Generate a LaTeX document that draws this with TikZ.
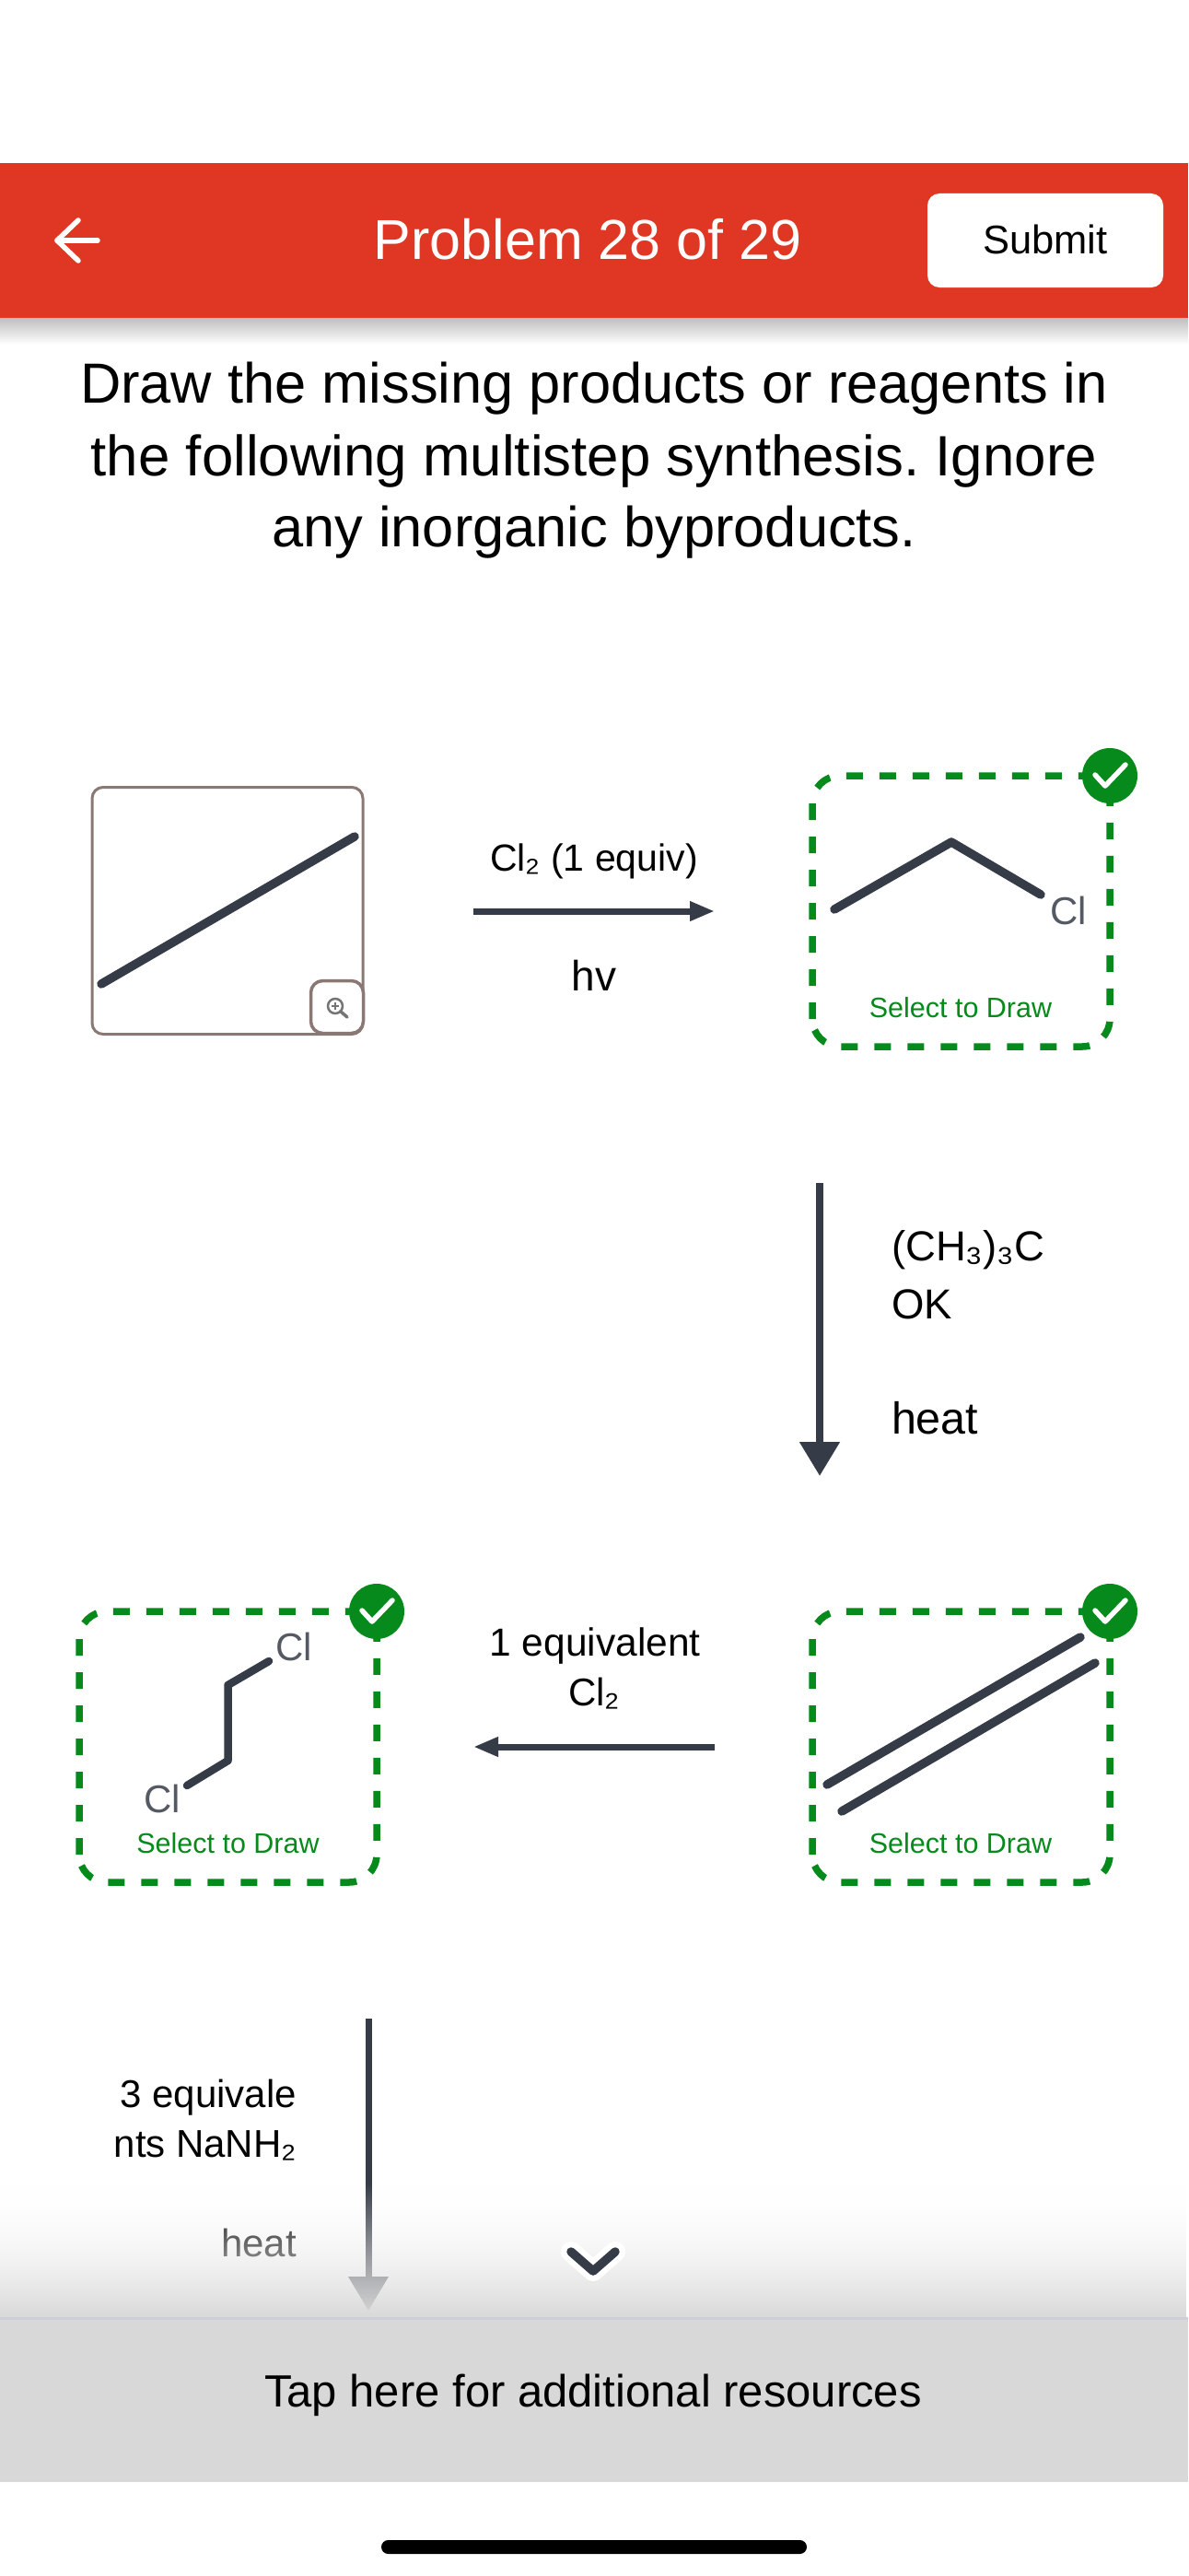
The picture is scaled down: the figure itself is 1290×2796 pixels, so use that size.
\documentclass[tikz,border=0pt]{standalone}
\usepackage{fontspec}
\setmainfont{Liberation Sans}
\usetikzlibrary{arrows.meta,fadings,shadings}
\definecolor{hdr}{HTML}{DF3723}
\definecolor{ink}{HTML}{363C47}
\definecolor{okgreen}{HTML}{058A1B}
\definecolor{band}{HTML}{D8D8D8}
\definecolor{edge}{HTML}{8A7874}
\definecolor{rulegrey}{HTML}{CDD0D6}
\definecolor{lens}{HTML}{757575}
\newcommand{\fs}[1]{\fontsize{#1}{#1}\selectfont}
\tikzfading[name=fadedown, top color=transparent!100, bottom color=transparent!0]
\tikzset{
  txt/.style={inner sep=0pt, outer sep=0pt, anchor=base, text=black},
  txtl/.style={txt, anchor=base west},
  txtr/.style={txt, anchor=base east},
  selbox/.style={minimum width=323pt, minimum height=294pt, inner sep=0pt, outer sep=0pt},
  selline/.style={draw=okgreen, line width=7.5pt, rounded corners=30pt,
    dash pattern=on 18pt off 18pt, dash phase=0pt},
  selcap/.style={txt, text=okgreen, font=\fs{30.5}},
  chk/.style={circle, fill=okgreen, minimum size=60pt, inner sep=0pt, outer sep=0pt},
  chkmark/.style={draw=white, line width=5.5pt, line cap=round, line join=round},
  bond/.style={draw=ink, line width=9.5pt, line cap=round, line join=round},
  flowh/.style={draw=ink, fill=ink, line width=7pt, -{Triangle[length=27pt,width=20pt]}},
  flowv/.style={draw=ink, fill=ink, line width=8pt, -{Triangle[length=37pt,width=42pt]}},
  atom/.style={txt, anchor=center, text=ink!85!white, font=\fs{42}},
}
\newcommand{\dashedbox}[3]{%
  \node[selbox] (#1) at (#2,#3) {};
  \draw[selline] ([yshift=30pt]#1.south west) -- (#1.north west) -- (#1.north east) -- (#1.south east) -- (#1.south west) -- ([yshift=30pt]#1.south west);
}
\newcommand{\checkbadge}[3]{%
  \node[chk] (#1) at (#2,#3) {};
  \coordinate (#1a) at (#2-16,#3-1);
  \coordinate (#1b) at (#2-5,#3+11);
  \coordinate (#1c) at (#2+17,#3-12);
  \draw[chkmark] (#1a) -- (#1b) -- (#1c);
}
\begin{document}
\frenchspacing
\begin{tikzpicture}[x=1pt,y=-1pt]
\useasboundingbox (0,0) rectangle (1290,2796);
\fill[white] (0,0) rectangle (1290,2796);

% header
\shade[top color=black!25, bottom color=white] (0,345) rectangle (1290,374);
\node[fill=hdr, minimum width=1290pt, minimum height=168pt, inner sep=0pt, outer sep=0pt, anchor=north west] (header) at (0,177) {};
\coordinate (backT) at (106,261);
\coordinate (backH) at (62,261);
\coordinate (backU) at (85,239);
\coordinate (backD) at (85,283);
\draw[white, line width=5.5pt, line cap=round, line join=round] (backT) -- (backH);
\draw[white, line width=5.5pt, line cap=round, line join=round] (backU) -- (backH) -- (backD);
\node[txt, text=white, font=\fs{61}] (title) at (638,281) {Problem 28 of 29};
\node[fill=white, rounded corners=13pt, minimum width=256pt, minimum height=102pt, inner sep=0pt, outer sep=0pt] (submit) at (1135,261) {};
\node[txt, font=\fs{43.5}] (submitT) at (1135,276) {Submit};

% question
\node[txt, font=\fs{61.4}] (q1) at (645,437) {Draw the missing products or reagents in};
\node[txt, font=\fs{61.8}] (q2) at (645,516) {the following multistep synthesis. Ignore};
\node[txt, font=\fs{61.4}] (q3) at (645,593) {any inorganic byproducts.};

% starting material
\node[draw=edge, line width=3pt, rounded corners=12pt, minimum width=294pt, minimum height=268pt, inner sep=0pt, outer sep=0pt] (start) at (247,988.5) {};
\coordinate (s1) at (110,1068);
\coordinate (s2) at (385,908);
\draw[bond] (s1) -- (s2);
\node[draw=edge, fill=white, line width=3.5pt, rounded corners=13pt, minimum width=57pt, minimum height=57pt, inner sep=0pt, outer sep=0pt] (zoombtn) at (366,1093) {};
\node[circle, draw=lens, line width=2.5pt, minimum size=16pt, inner sep=0pt, outer sep=0pt] (lensc) at (364,1092) {};
\coordinate (lh) at (377,1104);
\draw[lens, line width=3.5pt, line cap=round] (lensc.south east) -- (lh);
\coordinate (pa) at (360,1092); \coordinate (pb) at (368,1092);
\coordinate (pc) at (364,1088); \coordinate (pd) at (364,1096);
\draw[lens, line width=2pt] (pa) -- (pb) (pc) -- (pd);

% step 1
\coordinate (a1s) at (514,989);
\coordinate (a1e) at (776,989);
\draw[flowh] (a1s) -- (a1e);
\node[txt, font=\fs{41}] (r1) at (645,945) {Cl₂ (1 equiv)};
\node[txt, font=\fs{46}] (r2) at (645,1075) {hv};

% product 1
\dashedbox{box2}{1043.5}{989}
\coordinate (m1) at (906,987);
\coordinate (m2) at (1033,914);
\coordinate (m3) at (1130,971);
\draw[bond] (m1) -- (m2) -- (m3);
\node[atom] (clA) at (1160,988) {Cl};
\node[selcap] (cap2) at (1043,1104) {Select to Draw};
\checkbadge{ck2}{1205}{842}

% step 2
\coordinate (a2s) at (890,1284);
\coordinate (a2e) at (890,1602);
\draw[flowv] (a2s) -- (a2e);
\node[txtl, font=\fs{45.5}] (r3) at (968,1368) {(CH₃)₃C};
\node[txtl, font=\fs{45.5}] (r4) at (968,1431) {OK};
\node[txtl, font=\fs{48.5}] (r5) at (968,1556) {heat};

% product 2
\dashedbox{box3}{1043.5}{1896}
\coordinate (d1) at (898,1937);
\coordinate (d2) at (1173,1777);
\coordinate (d3) at (914,1966);
\coordinate (d4) at (1189,1805);
\draw[bond] (d1) -- (d2);
\draw[bond] (d3) -- (d4);
\node[selcap] (cap3) at (1043,2011) {Select to Draw};
\checkbadge{ck3}{1205}{1749}

% step 3
\coordinate (a3s) at (776,1896);
\coordinate (a3e) at (514,1896);
\draw[flowh] (a3s) -- (a3e);
\node[txt, font=\fs{42.5}] (r6) at (646,1797) {1 equivalent};
\node[txt, font=\fs{42}] (r7) at (645,1851) {Cl₂};

% product 3
\dashedbox{box4}{247.5}{1896}
\coordinate (e1) at (292,1803);
\coordinate (e2) at (247.5,1829);
\coordinate (e3) at (247.5,1911);
\coordinate (e4) at (203,1938);
\draw[bond, line width=8.5pt] (e1) -- (e2) -- (e3) -- (e4);
\node[atom] (clB) at (319,1787) {Cl};
\node[atom] (clC) at (176,1952) {Cl};
\node[selcap] (cap4) at (247.5,2011) {Select to Draw};
\checkbadge{ck4}{409}{1749}

% step 4
\coordinate (a4s) at (400,2191);
\coordinate (a4e) at (400,2508);
\draw[flowv, line width=7pt] (a4s) -- (a4e);
\node[txtr, font=\fs{42}] (r8) at (322,2287) {3 equivale};
\node[txtr, font=\fs{42}] (r9) at (322,2341) {nts NaNH₂};
\node[txtr, font=\fs{42}] (r10) at (322,2449) {heat};

% fade and bottom band
\shade[top color=white, bottom color=band, path fading=fadedown] (0,2370) rectangle (1290,2516);
\node[fill=band, minimum width=1290pt, minimum height=178pt, inner sep=0pt, outer sep=0pt, anchor=north west] (bar) at (0,2516) {};
\coordinate (ruleL) at (0,2516);
\coordinate (ruleR) at (1290,2516);
\draw[rulegrey, line width=3pt] (ruleL) -- (ruleR);
\coordinate (c1) at (620,2444);
\coordinate (c2) at (644,2465);
\coordinate (c3) at (668,2444);
\draw[white, line width=22pt, line cap=round, line join=round] (c1) -- (c2) -- (c3);
\draw[ink, line width=9.5pt, line cap=round, line join=round] (c1) -- (c2) -- (c3);
\node[txt, font=\fs{49}] (tap) at (644,2612) {Tap here for additional resources};
\node[fill=black, rounded corners=7.5pt, minimum width=462pt, minimum height=15pt, inner sep=0pt, outer sep=0pt] (home) at (645,2764.5) {};
\end{tikzpicture}
\end{document}
